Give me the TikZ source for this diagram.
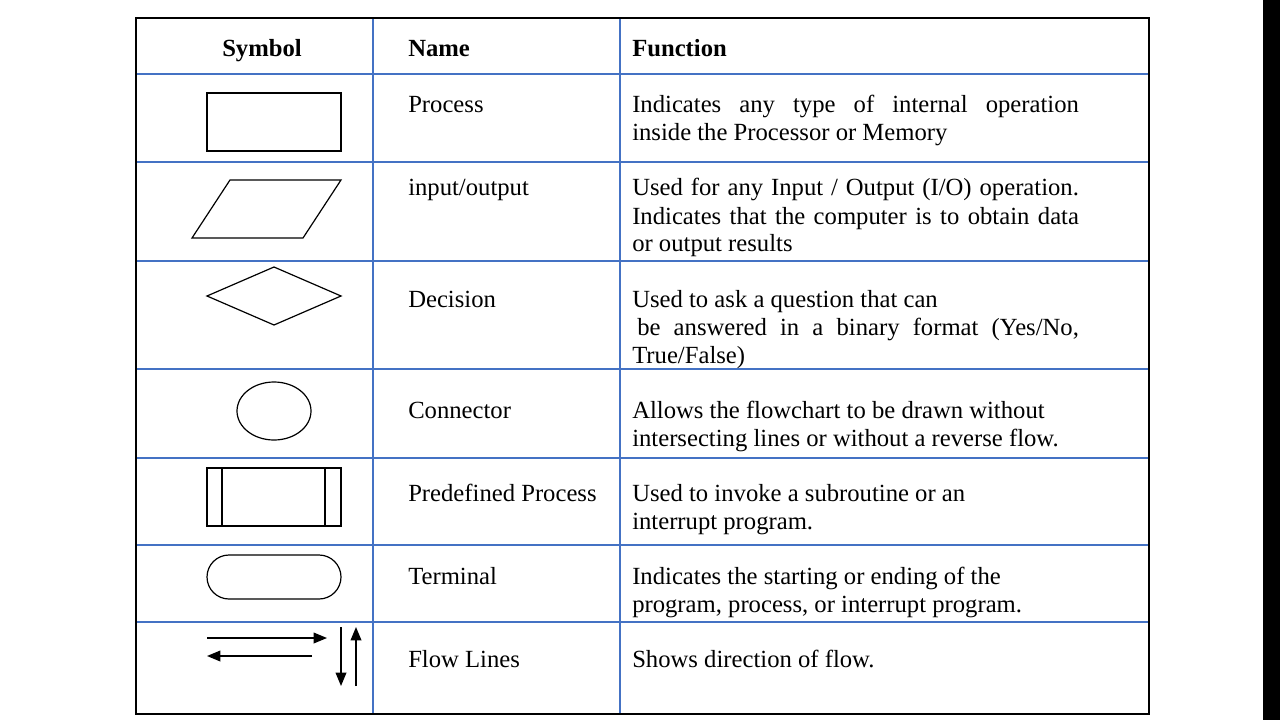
\documentclass[tikz,border=0pt]{standalone}
\usepackage{fontspec}
\setmainfont{Liberation Serif}
\usetikzlibrary{shapes.geometric,arrows.meta}
\definecolor{gridblue}{HTML}{4472C4}
\newcommand{\jline}[2]{\makebox[#1][s]{#2}}
\begin{document}
\begin{tikzpicture}[x=0.75pt,y=-0.75pt,
            txt/.style={anchor=base west,inner sep=0pt,font=\fontsize{18.5}{21}\selectfont},
            head/.style={txt,font=\fontsize{18.5}{21}\selectfont\bfseries},
            sym/.style={draw,line width=0.9pt},
            flow/.style={draw,line width=1.1pt,-{Triangle[length=10pt,width=8pt]}}
        ]
        \useasboundingbox (0,0) rectangle (1280,720);
        \fill[black] (1263,0) rectangle (1280,720);
        % grid
        \foreach \y in {74,162,261,369,458,545,622}
            \draw[gridblue,line width=0.8pt] (136,\y) -- (1149,\y);
        \foreach \x in {373,620}
            \draw[gridblue,line width=1pt] (\x,18) -- (\x,714);
        \draw[line width=1pt] (136,18) rectangle (1149,714);
        % header
        \node[head] (hsym) at (222,57) {Symbol};
        \node[head] (hname) at (408,57) {Name};
        \node[head] (hfun) at (632,57) {Function};
        % symbols
        \draw[sym] (207,93) rectangle (341,151);
        \draw[sym] (192,238) -- (230,180) -- (341,180) -- (303,238) -- cycle;
        \draw[sym] (207,296) -- (274,267) -- (341,296) -- (274,325) -- cycle;
        \draw[sym] (274,411) ellipse [x radius=37, y radius=29];
        \draw[sym] (207,468) rectangle (341,526);
        \draw[sym] (222,468) -- (222,526) (325,468) -- (325,526);
        \draw[sym,rounded corners=16.5pt] (207,555) rectangle (341,599);
        \coordinate (r1) at (207,638); \coordinate (r2) at (327,638);
        \coordinate (l1) at (312,656); \coordinate (l2) at (207,656);
        \coordinate (d1) at (341,627); \coordinate (d2) at (341,686);
        \coordinate (u1) at (356,686); \coordinate (u2) at (356,627);
        \draw[flow] (r1) -- (r2);
        \draw[flow] (l1) -- (l2);
        \draw[flow] (d1) -- (d2);
        \draw[flow] (u1) -- (u2);
        % names
        \node[txt] (nproc) at (408,113) {Process};
        \node[txt] (nio) at (408,196) {input/output};
        \node[txt] (ndec) at (408,307) {Decision};
        \node[txt] (ncon) at (408,418) {Connector};
        \node[txt] (npre) at (408,501) {Predefined Process};
        \node[txt] (nterm) at (408,584) {Terminal};
        \node[txt] (nflow) at (408,667) {Flow Lines};
        % functions
        \node[txt] (fproca) at (632,113) {\jline{335pt}{Indicates any type of internal operation}};
        \node[txt] (fprocb) at (632,141) {inside the Processor or Memory};
        \node[txt] (fioa) at (632,196) {\jline{335pt}{Used for any Input / Output (I/O) operation.}};
        \node[txt] (fiob) at (632,224) {\jline{335pt}{Indicates that the computer is to obtain data}};
        \node[txt] (fioc) at (632,252) {or output results};
        \node[txt] (fdeca) at (632,307) {Used to ask a question that can};
        \node[txt] (fdecb) at (637,335) {\jline{331.25pt}{be answered in a binary format (Yes/No,}};
        \node[txt] (fdecc) at (632,363) {True/False)};
        \node[txt] (fcona) at (632,418) {Allows the flowchart to be drawn without};
        \node[txt] (fconb) at (632,446) {intersecting lines or without a reverse flow.};
        \node[txt] (fprea) at (632,501) {Used to invoke a subroutine or an};
        \node[txt] (fpreb) at (632,529) {interrupt program.};
        \node[txt] (fterma) at (632,584) {Indicates the starting or ending of the};
        \node[txt] (ftermb) at (632,612) {program, process, or interrupt program.};
        \node[txt] (fflow) at (632,667) {Shows direction of flow.};
    \end{tikzpicture}
\end{document}
